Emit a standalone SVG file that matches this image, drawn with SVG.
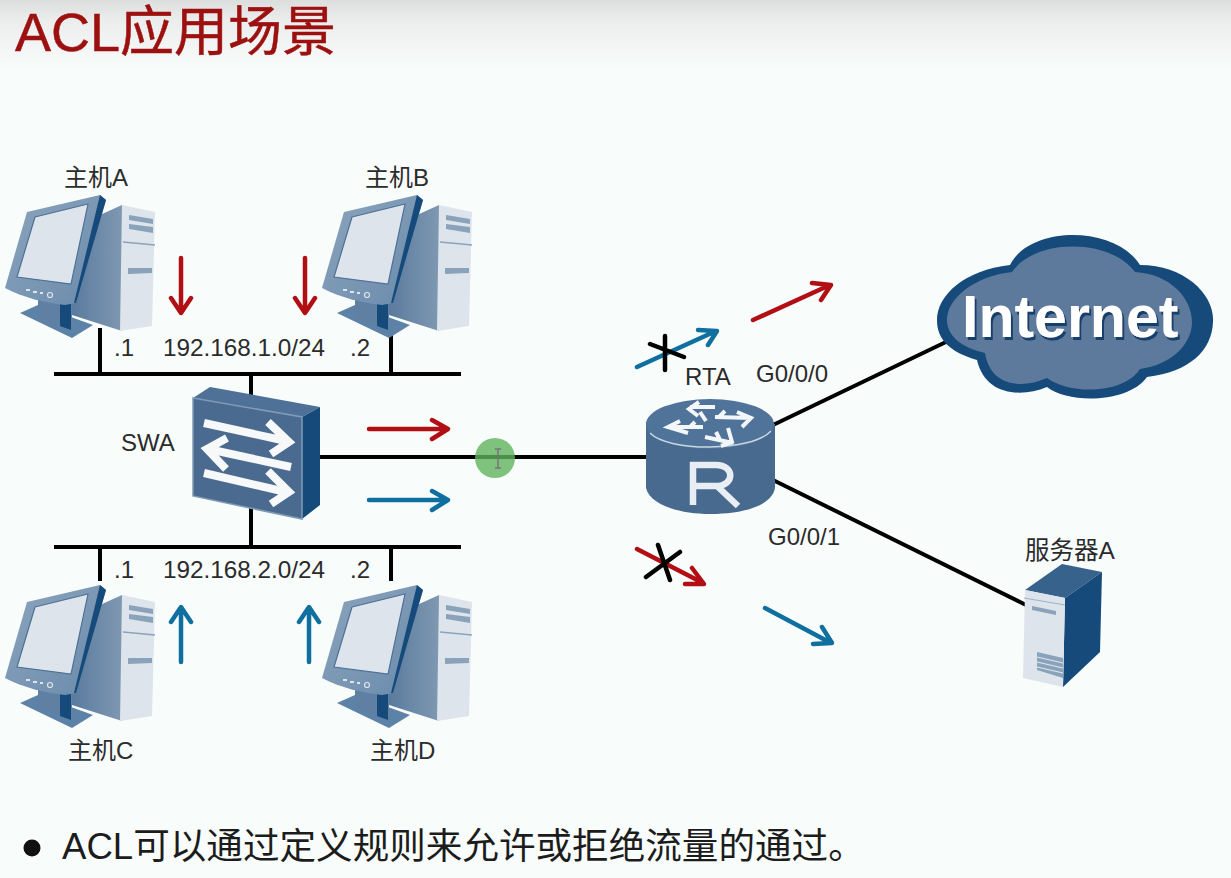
<svg xmlns="http://www.w3.org/2000/svg" width="1231" height="878" viewBox="0 0 1231 878">
<style>
text{font-family:"Liberation Sans","Noto Sans CJK SC",sans-serif;fill:#2b2b2b;font-size:24px}
.title{fill:#9c1010;font-size:54px;stroke:#9c1010;stroke-width:.5}
.body{fill:#1c1c1c;font-size:36.6px}
.wire{stroke:#000;stroke-width:4;fill:none}
.red{stroke:#b20f14;stroke-width:4.5;fill:none;stroke-linecap:round;stroke-linejoin:round}
.blue{stroke:#0f6f9f;stroke-width:4.5;fill:none;stroke-linecap:round;stroke-linejoin:round}
.x{stroke:#000;stroke-width:4.5;fill:none;stroke-linecap:round}
.dk{fill:#164a7a}.lt{fill:#dde4ec}.sl{fill:#8aa3bb}
</style>
<defs>
<linearGradient id="top" x1="0" y1="0" x2="0" y2="1"><stop offset="0" stop-color="#dcdedd"/><stop offset=".3" stop-color="#eceeed"/><stop offset="1" stop-color="#f8fcfb"/></linearGradient>
<linearGradient id="mon" x1="0" y1="0" x2="1" y2="1"><stop offset="0" stop-color="#8ca4bc"/><stop offset="1" stop-color="#6a8bac"/></linearGradient>
<linearGradient id="side" x1="0" y1="0" x2="1" y2="0"><stop offset="0" stop-color="#5a7b9e"/><stop offset="1" stop-color="#7f98b2"/></linearGradient>
<filter id="sh" x="-5%" y="-10%" width="110%" height="125%"><feDropShadow dx="2" dy="3" stdDeviation=".6" flood-color="#123f6c"/></filter>
<g id="pc">
<path d="M20 313 38 305 93 325 72 338Z" fill="#5d82a8"/>
<path d="M38 300H72V329L38 318Z" fill="#5f80a2"/>
<path d="M60 300H71V330L60 326Z" class="dk"/>
<path d="M100 215 122 205V331L72 315V300Z" fill="url(#side)"/>
<path d="M122 205 155 212 152 326 120 331Z" class="lt"/>
<path d="M129 215 153 219V224L129 220Z M129 224 153 227V233L129 229Z M128 268H152V273L128 274Z" class="sl"/>
<path d="M123 242 155 245" stroke="#8aa3bb" stroke-width="1.5" fill="none"/>
<path d="M27 212 100 195 106 200 76 303 65 305C45 303 22 297 5 288Z" fill="url(#mon)"/>
<path d="M100 195 106 200 76 303 74 303Z" class="dk"/>
<path d="M35 217 88 204 71 284 17 277Z" class="lt" stroke="#4f7196" stroke-width="1.2"/>
<path d="M26 290h4M33 292h4M40 293h3" stroke="#dde4ec" stroke-width="2"/>
<circle cx="50" cy="295" r="2.5" fill="none" stroke="#dde4ec" stroke-width="1.2"/>
</g>
</defs>
<rect width="1231" height="878" fill="#f8fcfb"/>
<rect width="1231" height="70" fill="url(#top)"/>
<text class="title" x="15" y="51">ACL应用场景</text>
<g id="connectors">
<path class="wire" d="M54 374H461M54 547H461M251 374V400M251 505V547M100 328V374M391 328V374M100 547V581M391 547V581M318 457H650M773 425 948 341M773 480 1026 605"/>
</g>
<g id="flows">
<path class="red" d="M181 258V312M171 298 181 313 191 298M305 258V312M295 298 305 313 315 298M369 429H447M432 420 448 429 432 439M753 320 830 285M812 283 831 285 821 300M637 549 703 583M685 584 704 584 692 568"/>
<path class="blue" d="M369 500H447M432 491 448 500 432 510M181 662V608M171 622 181 607 191 622M309 662V608M299 622 309 607 319 622M637 367 716 331M698 330 717 331 708 345M765 608 831 643M813 644 832 643 822 627"/>
<path class="x" d="M650 344 684 357M665 336V370M646 577 680 552M658 545 670 580"/>
</g>
<g id="hostA"><use href="#pc"/><text x="64" y="186">主机A</text></g>
<g id="hostB"><use href="#pc" x="317"/><text x="365" y="186">主机B</text></g>
<g id="hostC"><use href="#pc" y="390"/><text x="68" y="759">主机C</text></g>
<g id="hostD"><use href="#pc" x="317" y="390"/><text x="370" y="759">主机D</text></g>
<g id="addr">
<text x="114" y="356">.1</text><text x="163" y="356" style="font-size:24.3px">192.168.1.0/24</text><text x="350" y="356">.2</text>
<text x="114" y="578">.1</text><text x="163" y="578" style="font-size:24.3px">192.168.2.0/24</text><text x="350" y="578">.2</text>
</g>
<g id="swa">
<path d="M193 398 210 387 320 407 302 417Z" fill="#4f7197"/>
<path d="M302 417 320 407V505L302 519Z" class="dk"/>
<path d="M193 398 302 417 302 519 193 496Z" fill="#4a6b8f" stroke="#7f9ab4" stroke-width="1.5"/>
<path d="M204 423 286 441M268 422 289 442 271 454M291 467 208 449M227 438 207 449 226 469M204 473 286 492M268 471 289 492 271 504" fill="none" stroke="#f6f8fa" stroke-width="8"/>
<text x="121" y="451">SWA</text>
</g>
<circle cx="495" cy="458" r="20" fill="#5fb35f" fill-opacity=".8"/>
<path d="M495 449H501M498 449V468M495 468H501" stroke="#777" stroke-width="1.5" fill="none"/>
<g id="rta">
<path d="M646 424V488C650 505 680 514 710 514C745 514 772 505 775 488V424Z" fill="#476a8e"/>
<ellipse cx="710" cy="424" rx="64" ry="25" fill="#50739a"/>
<path d="M650 433C668 452 752 452 771 431" fill="none" stroke="#c9d6e2" stroke-width="1.5"/>
<path d="M715 407H690M699 402 689 409 698 416M700 412 706 421M715 417 752 418M737 412 751 418 742 427M725 411 718 418M703 427H668M680 421 668 427 688 433M695 422 690 427M705 437 733 443M728 428 732 442 721 446M716 432 720 440" stroke="#f4f7fa" stroke-width="4" fill="none"/>
<path d="M693 505V465H716C735 465 735 486 716 486H693M717 486 738 506" stroke="#e8eef4" stroke-width="6.5" fill="none"/>
<text x="685" y="385">RTA</text>
<text x="756" y="382">G0/0/0</text>
<text x="768" y="545">G0/0/1</text>
</g>
<g id="internet">
<path d="M1010 265C1030 225 1115 225 1140 265C1185 265 1215 295 1213 322C1212 350 1190 372 1147 377C1130 402 1070 405 1047 387C1020 398 985 395 977 360C950 352 937 340 937 320C937 295 965 270 1010 265Z" class="dk"/>
<path d="M1012 272C1035 238 1110 238 1135 272C1170 274 1192 298 1192 322C1192 345 1170 365 1140 369C1125 393 1072 396 1047 378C1020 390 990 385 985 353C960 347 947 335 947 320C947 298 975 276 1012 272Z" fill="#5d7a9c"/>
<text x="962" y="337" filter="url(#sh)" style="font-size:59px;font-weight:bold;fill:#fff">Internet</text>
</g>
<g id="serverA">
<path d="M1025 590 1062 564 1102 572 1065 598Z" fill="#37628c"/>
<path d="M1065 598 1102 572 1100 652 1063 687Z" class="dk"/>
<path d="M1025 590 1065 598 1063 687 1023 678Z" class="lt"/>
<path d="M1024 598 1065 605" stroke="#9fb3c6" stroke-width="1.2"/>
<path d="M1032 606 1056 611V615L1032 610Z" class="sl"/>
<path d="M1037 652 1063 658V678L1037 670Z" class="sl"/>
<path d="M1037 657 1063 663M1037 662 1063 668M1037 667 1063 673" stroke="#dfe6ee" stroke-width="1.2"/>
<text x="1025" y="559" style="font-size:24.5px">服务器A</text>
</g>
<circle cx="32" cy="848" r="8.5" fill="#111"/>
<text class="body" x="62" y="859">ACL可以通过定义规则来允许或拒绝流量的通过。</text>
</svg>
